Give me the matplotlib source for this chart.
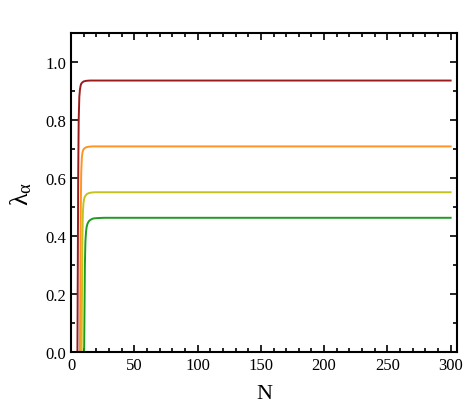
import matplotlib
matplotlib.use('Agg')
import matplotlib.pyplot as plt
from matplotlib.ticker import MultipleLocator

# lambda_alpha vs N
n_red = [5.0, 5.3, 5.6, 6.0, 6.5, 7.0, 7.5, 8.0, 9.0, 10.0, 12.0, 15.0, 20.0, 300.0]
lam_red = [0.0, 0.30, 0.60, 0.80, 0.88, 0.905, 0.918, 0.925, 0.930, 0.933, 0.935, 0.936, 0.936, 0.936]

n_orange = [7.0, 7.3, 7.6, 8.0, 8.5, 9.0, 9.5, 10.0, 11.0, 12.0, 14.0, 17.0, 22.0, 300.0]
lam_orange = [0.0, 0.25, 0.48, 0.62, 0.67, 0.688, 0.696, 0.700, 0.704, 0.706, 0.708, 0.709, 0.709, 0.709]

n_yellow = [8.3, 8.6, 8.9, 9.3, 9.8, 10.3, 10.8, 11.5, 12.5, 14.0, 16.0, 19.0, 24.0, 300.0]
lam_yellow = [0.0, 0.20, 0.38, 0.48, 0.515, 0.528, 0.535, 0.540, 0.545, 0.548, 0.550, 0.551, 0.551, 0.551]

n_green = [10.3, 10.6, 10.9, 11.3, 11.8, 12.3, 13.0, 14.0, 15.0, 16.5, 18.0, 21.0, 26.0, 300.0]
lam_green = [0.0, 0.15, 0.30, 0.38, 0.415, 0.432, 0.443, 0.451, 0.455, 0.459, 0.461, 0.462, 0.463, 0.463]

plt.rcParams['font.family'] = ['Liberation Serif', 'DejaVu Serif']
plt.rcParams['mathtext.fontset'] = 'custom'
plt.rcParams['mathtext.rm'] = 'Liberation Serif'
plt.rcParams['mathtext.it'] = 'Liberation Serif'

fig = plt.figure(figsize=(4.74, 4.14), dpi=100)
ax = fig.add_axes([0.150, 0.147, 0.814, 0.771])

ax.plot(n_red, lam_red, color="#9b1b1b", linewidth=1.4)
ax.plot(n_orange, lam_orange, color="#ff9422", linewidth=1.4)
ax.plot(n_yellow, lam_yellow, color="#c4c21c", linewidth=1.4)
ax.plot(n_green, lam_green, color="#1f9a22", linewidth=1.4)

ax.set_xlim(0, 305)
ax.set_ylim(0, 1.1)
ax.xaxis.set_major_locator(MultipleLocator(50))
ax.xaxis.set_minor_locator(MultipleLocator(10))
ax.yaxis.set_major_locator(MultipleLocator(0.2))
ax.yaxis.set_minor_locator(MultipleLocator(0.1))
ax.yaxis.set_major_formatter(matplotlib.ticker.FormatStrFormatter('%.1f'))

ax.tick_params(which="both", direction="in", top=True, right=True,
               width=1.2, labelsize=12)
ax.tick_params(which="major", length=5)
ax.tick_params(which="minor", length=3)
for s in ax.spines.values():
    s.set_linewidth(1.5)

ax.set_xlabel("N", fontsize=16, labelpad=8)
ax.set_ylabel(r"$\lambda_\alpha$", fontsize=19, labelpad=8)

fig.savefig("out.png", dpi=100)
